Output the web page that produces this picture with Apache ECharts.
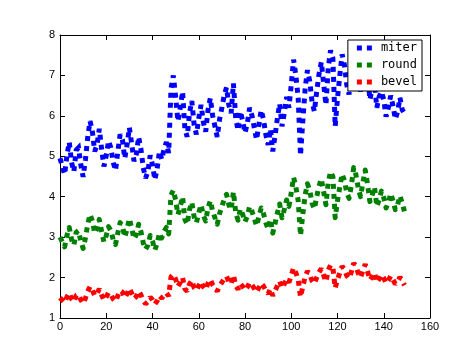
<!DOCTYPE html>
<html>
<head>
<meta charset="utf-8">
<script src="https://cdn.jsdelivr.net/npm/echarts@6/dist/echarts.min.js"></script>
<style>
  html, body { margin: 0; padding: 0; background: #fff; }
  #chart { width: 474px; height: 353px; }
</style>
</head>
<body>
<div id="chart"></div>
<script>
// values, x = 0..149
const miter = [
  4.95, 4.75, 4.55, 5.02, 5.35, 4.85, 4.62, 5.15, 5.21, 4.79,
  4.49, 4.92, 5.48, 5.87, 5.61, 5.12, 5.28, 5.68, 5.18, 4.75,
  5.02, 5.38, 5.21, 4.85, 4.65, 5.12, 5.54, 5.41, 4.95, 5.28,
  5.71, 5.31, 4.88, 5.05, 5.48, 5.18, 4.72, 4.46, 4.62, 5.02,
  4.79, 4.42, 4.69, 5.12, 4.92, 5.18, 5.35, 5.08, 6.67, 7.00,
  6.47, 5.87, 6.20, 6.60, 5.68, 5.48, 6.07, 6.37, 5.78, 5.54,
  5.94, 6.27, 5.84, 5.61, 6.14, 6.44, 6.01, 5.74, 5.48, 5.91,
  6.20, 6.50, 6.70, 6.27, 6.07, 6.80, 5.94, 5.64, 6.11, 5.87,
  5.58, 5.81, 6.20, 6.01, 5.71, 5.41, 5.78, 6.14, 5.91, 5.54,
  5.28, 5.68, 5.12, 5.51, 5.94, 6.30, 5.74, 6.07, 6.47, 6.20,
  6.77, 7.39, 7.00, 6.44, 5.02, 5.87, 6.67, 7.13, 6.86, 6.34,
  6.11, 6.60, 7.03, 7.33, 6.80, 6.27, 7.19, 7.62, 7.43, 5.74,
  6.44, 7.00, 7.52, 7.26, 6.77, 6.53, 7.06, 7.79, 7.49, 6.93,
  6.60, 7.19, 7.69, 7.10, 6.40, 6.67, 6.80, 6.20, 6.47, 6.60,
  6.40, 5.98, 6.20, 6.50, 6.25, 5.92, 6.10, 6.45, 6.15, 6.05
];
const round = [
  3.00, 2.88, 2.76, 3.04, 3.24, 2.94, 2.80, 3.12, 3.16, 2.90,
  2.72, 2.98, 3.32, 3.56, 3.40, 3.10, 3.20, 3.44, 3.14, 2.88,
  3.04, 3.26, 3.16, 2.94, 2.82, 3.10, 3.36, 3.28, 3.00, 3.20,
  3.46, 3.22, 2.96, 3.06, 3.32, 3.14, 2.86, 2.70, 2.80, 3.04,
  2.90, 2.68, 2.84, 3.10, 2.98, 3.14, 3.24, 3.08, 4.04, 4.16,
  3.92, 3.56, 3.76, 4.00, 3.44, 3.32, 3.68, 3.86, 3.50, 3.36,
  3.60, 3.80, 3.54, 3.40, 3.72, 3.90, 3.64, 3.48, 3.32, 3.58,
  3.76, 3.94, 4.06, 3.80, 3.68, 4.12, 3.60, 3.42, 3.70, 3.56,
  3.38, 3.52, 3.76, 3.64, 3.46, 3.28, 3.50, 3.72, 3.58, 3.36,
  3.20, 3.44, 3.10, 3.34, 3.60, 3.82, 3.48, 3.68, 3.92, 3.76,
  4.10, 4.48, 4.24, 3.90, 3.04, 3.56, 4.04, 4.32, 4.16, 3.84,
  3.70, 4.00, 4.26, 4.44, 4.12, 3.80, 4.36, 4.62, 4.50, 3.48,
  3.90, 4.24, 4.56, 4.40, 4.10, 3.96, 4.28, 4.72, 4.54, 4.20,
  4.00, 4.36, 4.66, 4.30, 3.88, 4.04, 4.24, 3.76, 3.92, 4.14,
  3.98, 3.72, 3.86, 4.08, 3.90, 3.68, 3.80, 4.02, 3.84, 3.62
];
const bevel = [
  1.50, 1.44, 1.38, 1.52, 1.62, 1.47, 1.40, 1.56, 1.58, 1.45,
  1.36, 1.49, 1.66, 1.78, 1.70, 1.55, 1.60, 1.72, 1.57, 1.44,
  1.52, 1.63, 1.58, 1.47, 1.41, 1.55, 1.68, 1.64, 1.50, 1.60,
  1.73, 1.61, 1.48, 1.53, 1.66, 1.57, 1.43, 1.35, 1.40, 1.52,
  1.45, 1.34, 1.42, 1.55, 1.49, 1.57, 1.62, 1.54, 2.02, 2.08,
  1.96, 1.78, 1.88, 2.00, 1.72, 1.66, 1.84, 1.93, 1.75, 1.68,
  1.80, 1.90, 1.77, 1.70, 1.86, 1.95, 1.82, 1.74, 1.66, 1.79,
  1.88, 1.97, 2.03, 1.90, 1.84, 2.06, 1.80, 1.71, 1.85, 1.78,
  1.69, 1.76, 1.88, 1.82, 1.73, 1.64, 1.75, 1.86, 1.79, 1.68,
  1.60, 1.72, 1.55, 1.67, 1.80, 1.91, 1.74, 1.84, 1.96, 1.88,
  2.05, 2.24, 2.12, 1.95, 1.52, 1.78, 2.02, 2.16, 2.08, 1.92,
  1.85, 2.00, 2.13, 2.22, 2.06, 1.90, 2.18, 2.31, 2.25, 1.74,
  1.95, 2.12, 2.28, 2.20, 2.05, 1.98, 2.14, 2.36, 2.27, 2.10,
  2.00, 2.18, 2.33, 2.15, 1.94, 2.02, 2.12, 1.88, 1.96, 2.07,
  1.99, 1.86, 1.93, 2.04, 1.95, 1.84, 1.90, 2.01, 1.92, 1.81
];
const xTicks = [0, 160, 20];
const yTicks = [1, 8, 1];

const tickFont = "'Liberation Sans Narrow', 'Liberation Sans', sans-serif";
const dashIcon = 'path://M0,0H5V5H0Z M10,0H15V5H10Z';

function pairs(arr) {
  return arr.map((v, i) => [i, v]);
}

function lineSeries(name, color, join, arr) {
  return {
    name: name,
    type: 'line',
    data: pairs(arr),
    showSymbol: false,
    symbol: 'none',
    color: color,
    lineStyle: { width: 5, type: [5, 5], join: join, miterLimit: 3, cap: 'butt', color: color }
  };
}

function axisCommon(show, margin) {
  return {
    axisLine: { show: true, onZero: false, lineStyle: { color: '#000', width: 1 } },
    axisTick: { show: true, inside: true, length: 5, lineStyle: { color: '#000' } },
    axisLabel: { show: show, color: '#000', fontSize: 11, fontFamily: tickFont, margin: margin },
    splitLine: { show: false }
  };
}

const chart = echarts.init(document.getElementById('chart'), null, { renderer: 'canvas' });

chart.setOption({
  animation: false,
  backgroundColor: '#fff',
  grid: { left: 60, right: 44, top: 35, bottom: 35 },
  legend: {
    orient: 'vertical',
    right: 52,
    top: 40,
    padding: [2, 5, 3, 9],
    itemGap: 5,
    itemWidth: 15,
    itemHeight: 5,
    backgroundColor: '#fff',
    borderColor: '#000',
    borderWidth: 1,
    borderRadius: 0,
    textStyle: { fontFamily: 'DejaVu Sans Mono', fontSize: 12, color: '#000', padding: [0, 0, 0, 4] },
    data: [
      { name: 'miter', icon: dashIcon },
      { name: 'round', icon: dashIcon },
      { name: 'bevel', icon: dashIcon }
    ]
  },
  xAxis: [
    Object.assign({ type: 'value', position: 'bottom', min: xTicks[0], max: xTicks[1], interval: xTicks[2] }, axisCommon(true, 3)),
    Object.assign({ type: 'value', position: 'top', min: xTicks[0], max: xTicks[1], interval: xTicks[2] }, axisCommon(false, 3))
  ],
  yAxis: [
    Object.assign({ type: 'value', position: 'left', min: yTicks[0], max: yTicks[1], interval: yTicks[2] }, axisCommon(true, 5)),
    Object.assign({ type: 'value', position: 'right', min: yTicks[0], max: yTicks[1], interval: yTicks[2] }, axisCommon(false, 5))
  ],
  series: [
    lineSeries('miter', '#0000ff', 'miter', miter),
    lineSeries('round', '#008000', 'round', round),
    lineSeries('bevel', '#ff0000', 'bevel', bevel)
  ]
});
</script>
</body>
</html>
